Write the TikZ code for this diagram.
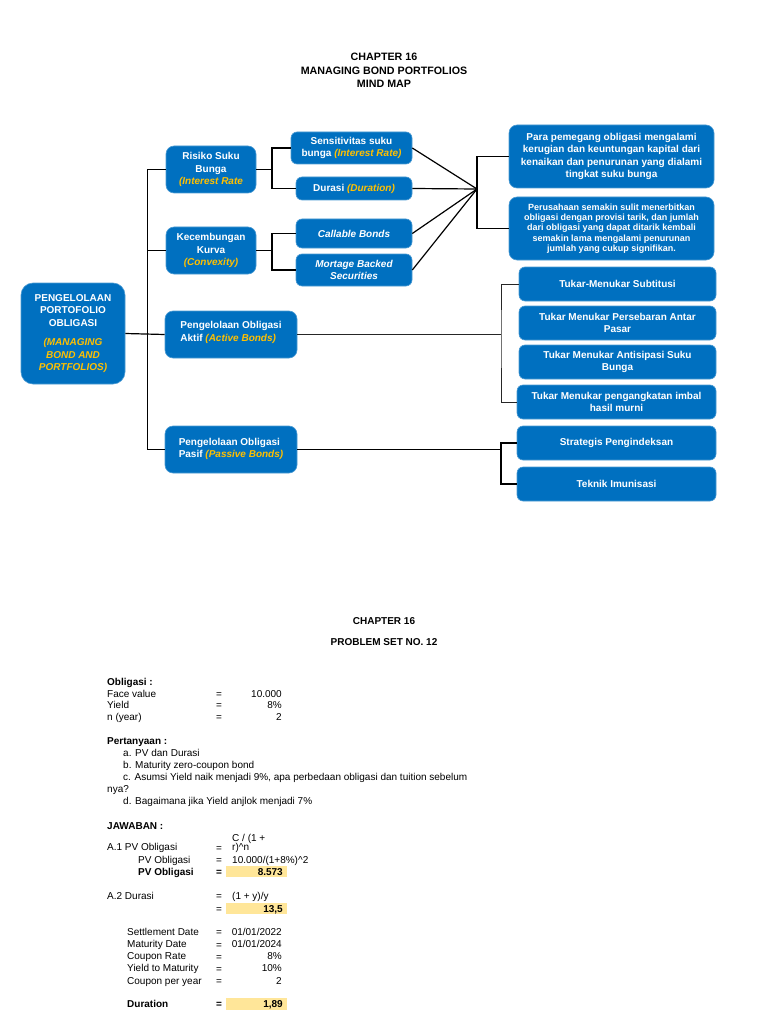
\documentclass[tikz,border=0pt]{standalone}
\usepackage{fontspec}
\setmainfont{Liberation Sans}
\definecolor{boxblue}{HTML}{0070C0}
\definecolor{gold}{HTML}{FFC000}
\definecolor{hl}{HTML}{FFE699}
\newcommand{\gi}[1]{{\color{gold}\itshape #1}}
\begin{document}
\begin{tikzpicture}[x=1pt,y=-1pt,
  box/.style={draw=boxblue!70!white, line width=0.6pt, fill=boxblue, rounded corners=6pt,
    text=white, font=\fontsize{10}{12.3}\selectfont\bfseries, align=center, inner sep=0pt},
  thin/.style={line width=0.8pt, draw=black!85},
  mid/.style={line width=1.2pt, draw=black},
  thk/.style={line width=1.8pt, draw=black},
  tl/.style={font=\fontsize{10}{12}\selectfont, inner sep=0pt, anchor=base west},
  tr/.style={font=\fontsize{10}{12}\selectfont, inner sep=0pt, anchor=base east},
  tc/.style={font=\fontsize{10}{12}\selectfont, inner sep=0pt, anchor=base},
  ttl/.style={font=\fontsize{10.7}{12}\selectfont\bfseries, inner sep=0pt, anchor=base}
]
\useasboundingbox (0,0) rectangle (768,1024);
\fill[white] (0,0) rectangle (768,1024);

% ---------- Title ----------
\node[ttl] (t1) at (384,60.8) {CHAPTER 16};
\node[ttl] (t2) at (384,74.6) {MANAGING BOND PORTFOLIOS};
\node[ttl] (t3) at (384,87.3) {MIND MAP};

% ---------- Mind map boxes ----------
\node[box, minimum width=104pt, minimum height=101pt, rounded corners=12pt] (root) at (73,333.5)
  {PENGELOLAAN\\PORTOFOLIO\\OBLIGASI\\[7.5pt]\gi{(MANAGING}\\\gi{BOND AND}\\\gi{PORTFOLIOS)}};
\node[box, minimum width=90pt, minimum height=47pt, rounded corners=8pt] (risiko) at (211,169.5)
  {Risiko Suku\\Bunga\\\gi{(Interest Rate}};
\node[box, minimum width=90pt, minimum height=47pt, rounded corners=8pt] (kecem) at (211,250.5)
  {Kecembungan\\Kurva\\\gi{(Convexity)}};
\node[box, minimum width=132pt, minimum height=47pt, rounded corners=8pt, align=left] (aktif) at (231,334.5)
  {Pengelolaan Obligasi\\Aktif \gi{(Active Bonds)}\\[-6pt]\mbox{}};
\node[box, minimum width=132pt, minimum height=47pt, rounded corners=8pt, align=left] (pasif) at (231,449.5)
  {Pengelolaan Obligasi\\Pasif \gi{(Passive Bonds)}\\[-9pt]\mbox{}};

\node[box, minimum width=121pt, minimum height=32pt] (sens) at (351.5,148)
  {Sensitivitas suku\\bunga \gi{(Interest Rate)}};
\node[box, minimum width=116pt, minimum height=23pt] (durasi) at (354,188.5)
  {Durasi \gi{(Duration)}};
\node[box, minimum width=116pt, minimum height=29pt] (callable) at (354,233.5)
  {\itshape Callable Bonds};
\node[box, minimum width=116pt, minimum height=32pt] (mortage) at (354,270)
  {\itshape Mortage Backed\\\itshape Securities};

\node[box, minimum width=205pt, minimum height=63pt, rounded corners=8pt] (para) at (611.5,156.5)
  {Para pemegang obligasi mengalami\\kerugian dan keuntungan kapital dari\\kenaikan dan penurunan yang dialami\\tingkat suku bunga};
\node[box, minimum width=205pt, minimum height=63pt, rounded corners=8pt, font=\fontsize{9}{10.4}\selectfont\bfseries] (perus) at (611.5,228.5)
  {Perusahaan semakin sulit menerbitkan\\obligasi dengan provisi tarik, dan jumlah\\dari obligasi yang dapat ditarik kembali\\semakin lama mengalami penurunan\\jumlah yang cukup signifikan.};

\node[box, minimum width=197pt, minimum height=34pt] (subt) at (617.5,284) {Tukar-Menukar Subtitusi};
\node[box, minimum width=197pt, minimum height=34pt] (perseb) at (617.5,323) {Tukar Menukar Persebaran Antar\\Pasar};
\node[box, minimum width=197pt, minimum height=34pt] (antis) at (617.5,362) {Tukar Menukar Antisipasi Suku\\Bunga};
\node[box, minimum width=199pt, minimum height=34pt] (pengang) at (616.5,402) {Tukar Menukar pengangkatan imbal\\hasil murni};
\node[box, minimum width=199pt, minimum height=34pt] (strat) at (616.5,443) {Strategis Pengindeksan};
\node[box, minimum width=199pt, minimum height=34pt] (teknik) at (616.5,484) {Teknik Imunisasi};

% ---------- Connectors ----------
\draw[mid] (risiko.west) -- ++(-18,0) |- (pasif.west);
\draw[mid] (kecem.west) -- ++(-18,0);
\draw[mid] (root.east) -- (aktif.west);

\coordinate (rj) at (272,169.5);
\draw[thk] (risiko.east) -- (rj);
\draw[mid] (sens.west) -| (rj) |- (durasi.west);

\coordinate (kj) at (272,250.5);
\draw[thk] (kecem.east) -- (kj);
\draw[mid] (callable.west) -| (kj);
\draw[thk] (kj) |- (mortage.west);

\coordinate (J) at (477,189);
\draw[mid] (sens.east) -- (J);
\draw[mid] (durasi.east) -- (J);
\draw[mid] (callable.east) -- (J);
\draw[mid] (mortage.east) -- (J);
\draw[thk] (para.west) -| (J) |- (perus.west);

\coordinate (aj) at (501,334.5);
\draw[thin] (aktif.east) -- (aj);
\draw[thin] (subt.west) -| (aj) |- (pengang.west);

\coordinate (pj) at (501,449.5);
\draw[thk] (pasif.east) -- (pj);
\draw[thk] (strat.west) -| (pj) |- (teknik.west);

% ---------- Problem set ----------
\node[tc, font=\fontsize{10}{12}\selectfont\bfseries] (c16) at (384,624) {CHAPTER 16};
\node[tc, font=\fontsize{10}{12}\selectfont\bfseries] (ps) at (384,645) {PROBLEM SET NO. 12};

\node[tl, font=\fontsize{10}{12}\selectfont\bfseries] (obl) at (107,685) {Obligasi :};
\node[tl] (fvl) at (107,697) {Face value};
\node[tc] (fve) at (219,697) {=};
\node[tr] (fvv) at (282,697) {10.000};
\node[tl] (yl) at (107,708.5) {Yield};
\node[tc] (ye) at (219,708.5) {=};
\node[tr] (yv) at (282,708.5) {8\%};
\node[tl] (nl) at (107,720.5) {n (year)};
\node[tc] (ne) at (219,720.5) {=};
\node[tr] (nv) at (282,720.5) {2};

\node[tl, font=\fontsize{10}{12}\selectfont\bfseries] (per) at (107,744) {Pertanyaan :};
\node[tl] (qa) at (123,756.5) {a. PV dan Durasi};
\node[tl] (qb) at (123,768.8) {b. Maturity zero-coupon bond};
\node[tl] (qc) at (123,780.8) {c. Asumsi Yield naik menjadi 9\%, apa perbedaan obligasi dan tuition sebelum};
\node[tl] (qc2) at (107,792.6) {nya?};
\node[tl] (qd) at (123,804.6) {d. Bagaimana jika Yield anjlok menjadi 7\%};

\node[tl, font=\fontsize{10}{12}\selectfont\bfseries] (jaw) at (107,829) {JAWABAN :};
\node[tl] (f1) at (232,841) {C / (1 +};
\node[tl] (a1) at (107,850) {A.1 PV Obligasi};
\node[tc] (a1e) at (219,851) {=};
\node[tl] (f2) at (232,850) {r)\^{}n};
\node[tl] (pv1) at (138,863) {PV Obligasi};
\node[tc] (pv1e) at (219,863.5) {=};
\node[tl] (pv1v) at (232,863) {10.000/(1+8\%)\^{}2};
\fill[hl] (226,866) rectangle (287,877);
\node[tl, font=\fontsize{10}{12}\selectfont\bfseries] (pv2) at (138,875.5) {PV Obligasi};
\node[tc, font=\fontsize{10}{12}\selectfont\bfseries] (pv2e) at (219,875.5) {=};
\node[tr, font=\fontsize{10}{12}\selectfont\bfseries] (pv2v) at (283,875.5) {8.573};

\node[tl] (a2) at (107,899) {A.2 Durasi};
\node[tc] (a2e) at (219,899.5) {=};
\node[tl] (a2f) at (232,899) {(1 + y)/y};
\fill[hl] (226,903) rectangle (287,914);
\node[tc] (a2e2) at (219,912.5) {=};
\node[tr, font=\fontsize{10}{12}\selectfont\bfseries] (a2v) at (283,912.5) {13,5};

\node[tl] (sd) at (127,935) {Settlement Date};
\node[tc] (sde) at (219,935.5) {=};
\node[tr] (sdv) at (282,935) {01/01/2022};
\node[tl] (md) at (127,947.5) {Maturity Date};
\node[tc] (mde) at (219,948) {=};
\node[tr] (mdv) at (282,947.5) {01/01/2024};
\node[tl] (cr) at (127,959.8) {Coupon Rate};
\node[tc] (cre) at (219,960.3) {=};
\node[tr] (crv) at (282,959.8) {8\%};
\node[tl] (ytm) at (127,971.8) {Yield to Maturity};
\node[tc] (ytme) at (219,972.3) {=};
\node[tr] (ytmv) at (282,971.8) {10\%};
\node[tl] (cpy) at (127,984) {Coupon per year};
\node[tc] (cpye) at (219,984.5) {=};
\node[tr] (cpyv) at (282,984) {2};

\fill[hl] (226,998) rectangle (287,1010);
\node[tl, font=\fontsize{10}{12}\selectfont\bfseries] (dur) at (127,1007.5) {Duration};
\node[tc, font=\fontsize{10}{12}\selectfont\bfseries] (dure) at (219,1007.5) {=};
\node[tr, font=\fontsize{10}{12}\selectfont\bfseries] (durv) at (283,1007.5) {1,89};
\end{tikzpicture}
\end{document}
